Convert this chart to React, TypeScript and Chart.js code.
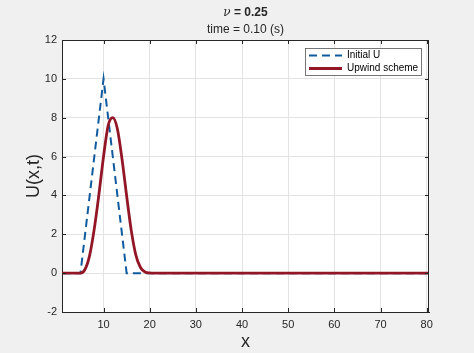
import React, { useEffect, useRef } from "react";
import { Chart, registerables } from "chart.js";

Chart.register(...registerables);

const xValues = [
  1, 2, 3, 4, 5, 6, 7, 8, 9, 10, 11, 12, 13, 14, 15, 16, 17, 18, 19, 20,
  21, 22, 23, 24, 25, 26, 27, 28, 29, 30, 31, 32, 33, 34, 35, 36, 37, 38, 39, 40,
  41, 42, 43, 44, 45, 46, 47, 48, 49, 50, 51, 52, 53, 54, 55, 56, 57, 58, 59, 60,
  61, 62, 63, 64, 65, 66, 67, 68, 69, 70, 71, 72, 73, 74, 75, 76, 77, 78, 79, 80, 81,
];

const initialU = [
  0, 0, 0, 0, 0, 2, 4, 6, 8, 10, 8, 6, 4, 2, 0, 0, 0, 0, 0, 0,
  0, 0, 0, 0, 0, 0, 0, 0, 0, 0, 0, 0, 0, 0, 0, 0, 0, 0, 0, 0,
  0, 0, 0, 0, 0, 0, 0, 0, 0, 0, 0, 0, 0, 0, 0, 0, 0, 0, 0, 0,
  0, 0, 0, 0, 0, 0, 0, 0, 0, 0, 0, 0, 0, 0, 0, 0, 0, 0, 0, 0, 0,
];

const upwindU = [
  0, 0, 0, 0, 0, 0.2, 0.93, 2.29, 4.06, 6.01, 7.6, 8.0, 7.42, 5.87, 3.98, 2.2, 0.93, 0.29, 0.06, 0.01,
  0, 0, 0, 0, 0, 0, 0, 0, 0, 0, 0, 0, 0, 0, 0, 0, 0, 0, 0, 0,
  0, 0, 0, 0, 0, 0, 0, 0, 0, 0, 0, 0, 0, 0, 0, 0, 0, 0, 0, 0,
  0, 0, 0, 0, 0, 0, 0, 0, 0, 0, 0, 0, 0, 0, 0, 0, 0, 0, 0, 0, 0,
];

const xTicks = [10, 20, 30, 40, 50, 60, 70, 80];
const yTicks = [-2, 0, 2, 4, 6, 8, 10, 12];

const titleNu = "ν";
const titleRest = " = 0.25";
const subtitleText = "time = 0.10 (s)";
const xLabel = "x";
const yLabel = "U(x,t)";
const seriesLabels = ["Initial U", "Upwind scheme"];

const FONT = "'Liberation Sans', Arial, Helvetica, sans-serif";
const AXIS_COLOR = "#262626";
const BLUE = "#0f5b9e";
const RED = "#921626";

export default function App() {
  const ref = useRef<HTMLCanvasElement | null>(null);

  useEffect(() => {
    document.body.style.margin = "0";
    document.body.style.background = "#f0f0f0";
    const canvas = ref.current;
    if (!canvas) return;

    const bgPlugin = {
      id: "bg",
      beforeDraw(chart: any) {
        const { ctx, chartArea } = chart;
        ctx.save();
        ctx.fillStyle = "#f0f0f0";
        ctx.fillRect(0, 0, chart.width, chart.height);
        ctx.fillStyle = "#ffffff";
        ctx.fillRect(chartArea.left, chartArea.top, chartArea.right - chartArea.left, chartArea.bottom - chartArea.top);
        ctx.restore();
      },
    };

    const decoPlugin = {
      id: "deco",
      afterDraw(chart: any) {
        const { ctx, chartArea } = chart;
        const xs = chart.scales.x;
        const ys = chart.scales.y;
        const { left, right, top, bottom } = chartArea;
        ctx.save();
        // box
        ctx.strokeStyle = AXIS_COLOR;
        ctx.lineWidth = 1;
        ctx.beginPath();
        ctx.moveTo(left, top + 0.5);
        ctx.lineTo(right, top + 0.5);
        ctx.moveTo(right - 0.5, top);
        ctx.lineTo(right - 0.5, bottom);
        ctx.stroke();
        // inward ticks
        ctx.beginPath();
        xTicks.forEach((v) => {
          const px = Math.round(xs.getPixelForValue(v)) + 0.5;
          ctx.moveTo(px, bottom);
          ctx.lineTo(px, bottom - 4);
          ctx.moveTo(px, top);
          ctx.lineTo(px, top + 4);
        });
        yTicks.forEach((v) => {
          const py = Math.round(ys.getPixelForValue(v)) + 0.5;
          ctx.moveTo(left, py);
          ctx.lineTo(left + 4, py);
          ctx.moveTo(right, py);
          ctx.lineTo(right - 4, py);
        });
        ctx.stroke();

        // titles
        const cx = (left + right) / 2;
        ctx.fillStyle = AXIS_COLOR;
        ctx.textBaseline = "middle";
        ctx.font = `italic 12px 'DejaVu Serif', serif`;
        const wNu = ctx.measureText(titleNu).width;
        ctx.font = `bold 12px ${FONT}`;
        const wRest = ctx.measureText(titleRest).width;
        const startX = cx - (wNu + wRest) / 2;
        ctx.textAlign = "left";
        ctx.font = `italic 12px 'DejaVu Serif', serif`;
        ctx.fillText(titleNu, startX, 13);
        ctx.font = `bold 12px ${FONT}`;
        ctx.fillText(titleRest, startX + wNu, 13);
        ctx.textAlign = "center";
        ctx.font = `12px ${FONT}`;
        ctx.fillText(subtitleText, cx, 30);

        // axis titles
        ctx.font = `18px ${FONT}`;
        ctx.fillText(xLabel, cx, 342);
        ctx.save();
        ctx.translate(34, (top + bottom) / 2);
        ctx.rotate(-Math.PI / 2);
        ctx.fillText(yLabel, 0, 0);
        ctx.restore();

        // legend
        const lx = 305, ly = 48, lw = 116, lh = 27;
        ctx.fillStyle = "#ffffff";
        ctx.fillRect(lx, ly, lw, lh);
        ctx.strokeStyle = "#555555";
        ctx.lineWidth = 0.8;
        ctx.strokeRect(lx + 0.5, ly + 0.5, lw, lh);
        const ds = chart.data.datasets;
        const rows = [55.5, 68.5];
        ds.forEach((d: any, i: number) => {
          ctx.beginPath();
          ctx.strokeStyle = d.borderColor;
          ctx.lineWidth = d.borderWidth;
          ctx.setLineDash(d.borderDash || []);
          ctx.moveTo(309, rows[i]);
          ctx.lineTo(342, rows[i]);
          ctx.stroke();
          ctx.setLineDash([]);
          ctx.fillStyle = "#000000";
          ctx.textAlign = "left";
          ctx.font = `10px ${FONT}`;
          ctx.fillText(d.label, 347, rows[i]);
        });
        ctx.restore();
      },
    };

    const chart = new Chart(canvas, {
      type: "line",
      data: {
        labels: xValues,
        datasets: [
          {
            label: seriesLabels[0],
            data: xValues.map((x, i) => ({ x, y: initialU[i] })),
            borderColor: BLUE,
            borderWidth: 2,
            borderDash: [8, 5],
            pointRadius: 0,
            tension: 0,
            fill: false,
            order: 2,
          },
          {
            label: seriesLabels[1],
            data: xValues.map((x, i) => ({ x, y: upwindU[i] })),
            borderColor: RED,
            borderWidth: 2.8,
            pointRadius: 0,
            cubicInterpolationMode: "monotone",
            fill: false,
            order: 1,
          },
        ],
      },
      options: {
        responsive: false,
        animation: false,
        layout: { padding: { left: 0, top: 40, right: 45, bottom: 0 } },
        plugins: {
          legend: { display: false },
          title: { display: false },
          tooltip: { enabled: false },
        },
        scales: {
          x: {
            type: "linear",
            min: 1,
            max: 80.5,
            afterBuildTicks(scale: any) {
              scale.ticks = xTicks.map((v) => ({ value: v }));
            },
            afterFit(scale: any) {
              scale.height = 41;
            },
            grid: { color: "#e3e3e3", drawTicks: false, lineWidth: 1 },
            border: { display: true, color: AXIS_COLOR, width: 1 },
            ticks: {
              padding: 6,
              color: AXIS_COLOR,
              font: { family: FONT, size: 11 },
              maxRotation: 0,
            },
          },
          y: {
            type: "linear",
            min: -2,
            max: 12,
            afterBuildTicks(scale: any) {
              scale.ticks = yTicks.map((v) => ({ value: v }));
            },
            afterFit(scale: any) {
              scale.width = 62;
            },
            grid: { color: "#e3e3e3", drawTicks: false, lineWidth: 1 },
            border: { display: true, color: AXIS_COLOR, width: 1 },
            ticks: {
              padding: 5,
              color: AXIS_COLOR,
              font: { family: FONT, size: 11 },
            },
          },
        },
      },
      plugins: [bgPlugin, decoPlugin],
    } as any);

    return () => chart.destroy();
  }, []);

  return (
    <div style={{ width: 474, height: 353 }}>
      <canvas ref={ref} width={474} height={353} style={{ display: "block", width: 474, height: 353 }} />
    </div>
  );
}
